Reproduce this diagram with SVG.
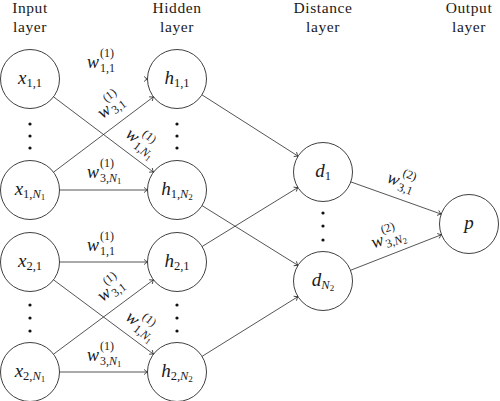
<svg xmlns="http://www.w3.org/2000/svg" width="500" height="401" viewBox="0 0 500 401">
<defs>
<style>
text{font-family:"Liberation Serif","DejaVu Serif",serif;fill:#1a1a1a}
.hd{font-size:15.5px;text-anchor:middle;letter-spacing:0.6px}
.node circle{fill:#fff;stroke:#2a2a2a;stroke-width:0.9}
.nl{font-size:19px;text-anchor:middle}
.i{font-style:italic}
.sb{font-size:12.5px}
.ss{font-size:9px}
.w{font-size:18px;font-style:italic}
.s{font-size:12px}
.s .ss{font-size:8.5px}
.edges path{fill:none;stroke:#2a2a2a;stroke-width:0.8;marker-end:url(#ah)}
.dots circle{fill:#111}
</style>
<marker id="ah" viewBox="-5 -4 6 8" markerWidth="6" markerHeight="8" refX="0" refY="0" orient="auto" markerUnits="userSpaceOnUse">
<path d="M-3.5,-2.6 Q-1.5,-0.8 0,0 Q-1.5,0.8 -3.5,2.6" fill="none" stroke="#2a2a2a" stroke-width="0.8"/>
</marker>
</defs>
<rect width="500" height="401" fill="#fff"/>

<g id="headers">
<text class="hd" x="30" y="13">Input</text><text class="hd" x="30" y="31.5">layer</text>
<text class="hd" x="177" y="13">Hidden</text><text class="hd" x="177" y="31.5">layer</text>
<text class="hd" x="323" y="13">Distance</text><text class="hd" x="323" y="31.5">layer</text>
<text class="hd" x="469" y="13">Output</text><text class="hd" x="469" y="31.5">layer</text>
</g>

<g id="connectors" class="edges">
<path d="M145.5,79 L147.5,79"/>
<path d="M53.5,96.8 L153.5,172.2"/>
<path d="M53.5,172.2 L153.5,96.8"/>
<path d="M59.5,190 L147.5,190"/>
<path d="M59.5,262 L147.5,262"/>
<path d="M53.5,279.8 L153.5,354.2"/>
<path d="M53.5,354.2 L153.5,279.8"/>
<path d="M59.5,372 L147.5,372"/>
<path d="M201.9,94.8 L298.1,156.2"/>
<path d="M202,205.6 L298,265.4"/>
<path d="M202.1,246.5 L297.9,187.5"/>
<path d="M202,356.4 L298,296.6"/>
<path d="M350.8,181.9 L441.2,214.1"/>
<path d="M350.5,270.3 L441.5,234.7"/>
</g>

<g id="edge-labels">
<g transform="translate(87,68)"><text class="w" x="0" y="0">w</text><text class="s" x="13" y="-11">(1)</text><text class="s" x="13" y="4">1,1</text></g>
<g transform="translate(102.4,119.2) rotate(-37)"><text class="w" x="0" y="0">w</text><text class="s" x="13" y="-11">(1)</text><text class="s" x="13" y="4">3,1</text></g>
<g transform="translate(124.6,136) rotate(38)"><text class="w" x="0" y="0">w</text><text class="s" x="13" y="-11">(1)</text><text class="s" x="13" y="4">1,<tspan class="i">N</tspan><tspan class="ss" dy="2">1</tspan></text></g>
<g transform="translate(87,178)"><text class="w" x="0" y="0">w</text><text class="s" x="13" y="-11">(1)</text><text class="s" x="13" y="4">3,<tspan class="i">N</tspan><tspan class="ss" dy="2">1</tspan></text></g>

<g transform="translate(87,251)"><text class="w" x="0" y="0">w</text><text class="s" x="13" y="-11">(1)</text><text class="s" x="13" y="4">1,1</text></g>
<g transform="translate(102.4,302.2) rotate(-37)"><text class="w" x="0" y="0">w</text><text class="s" x="13" y="-11">(1)</text><text class="s" x="13" y="4">3,1</text></g>
<g transform="translate(124.6,319) rotate(38)"><text class="w" x="0" y="0">w</text><text class="s" x="13" y="-11">(1)</text><text class="s" x="13" y="4">1,<tspan class="i">N</tspan><tspan class="ss" dy="2">1</tspan></text></g>
<g transform="translate(87,361)"><text class="w" x="0" y="0">w</text><text class="s" x="13" y="-11">(1)</text><text class="s" x="13" y="4">3,<tspan class="i">N</tspan><tspan class="ss" dy="2">1</tspan></text></g>

<g transform="translate(386,182) rotate(20)"><text class="w" x="0" y="0">w</text><text class="s" x="13" y="-11">(2)</text><text class="s" x="13" y="4">3,1</text></g>
<g transform="translate(373.6,248.4) rotate(-19)"><text class="w" x="0" y="0">w</text><text class="s" x="13" y="-11">(2)</text><text class="s" x="13" y="4">3,<tspan class="i">N</tspan><tspan class="ss" dy="2">2</tspan></text></g>
</g>

<g id="x11" class="node"><circle cx="30" cy="79" r="29.5"/><text class="nl" x="30" y="84"><tspan class="i">x</tspan><tspan class="sb" dy="3">1,1</tspan></text></g>
<g id="x1N1" class="node"><circle cx="30" cy="190" r="29.5"/><text class="nl" x="30" y="195"><tspan class="i">x</tspan><tspan class="sb" dy="3">1,</tspan><tspan class="sb i">N</tspan><tspan class="ss" dy="2">1</tspan></text></g>
<g id="x21" class="node"><circle cx="30" cy="262" r="29.5"/><text class="nl" x="30" y="267"><tspan class="i">x</tspan><tspan class="sb" dy="3">2,1</tspan></text></g>
<g id="x2N1" class="node"><circle cx="30" cy="372" r="29.5"/><text class="nl" x="30" y="377"><tspan class="i">x</tspan><tspan class="sb" dy="3">2,</tspan><tspan class="sb i">N</tspan><tspan class="ss" dy="2">1</tspan></text></g>

<g id="h11" class="node"><circle cx="177" cy="79" r="29.5"/><text class="nl" x="177" y="84"><tspan class="i">h</tspan><tspan class="sb" dy="3">1,1</tspan></text></g>
<g id="h1N2" class="node"><circle cx="177" cy="190" r="29.5"/><text class="nl" x="177" y="195"><tspan class="i">h</tspan><tspan class="sb" dy="3">1,</tspan><tspan class="sb i">N</tspan><tspan class="ss" dy="2">2</tspan></text></g>
<g id="h21" class="node"><circle cx="177" cy="262" r="29.5"/><text class="nl" x="177" y="267"><tspan class="i">h</tspan><tspan class="sb" dy="3">2,1</tspan></text></g>
<g id="h2N2" class="node"><circle cx="177" cy="372" r="29.5"/><text class="nl" x="177" y="377"><tspan class="i">h</tspan><tspan class="sb" dy="3">2,</tspan><tspan class="sb i">N</tspan><tspan class="ss" dy="2">2</tspan></text></g>

<g id="d1" class="node"><circle cx="323" cy="172" r="29.5"/><text class="nl" x="323" y="177"><tspan class="i">d</tspan><tspan class="sb" dy="3">1</tspan></text></g>
<g id="dN2" class="node"><circle cx="323" cy="281" r="29.5"/><text class="nl" x="323" y="286"><tspan class="i">d</tspan><tspan class="sb i" dy="3">N</tspan><tspan class="ss" dy="2">2</tspan></text></g>

<g id="p" class="node"><circle cx="469" cy="224" r="29.5"/><text class="nl" x="469" y="229"><tspan class="i">p</tspan></text></g>

<g id="ellipses" class="dots">
<circle cx="30" cy="124" r="1.6"/><circle cx="30" cy="136" r="1.6"/><circle cx="30" cy="148" r="1.6"/>
<circle cx="177" cy="124" r="1.6"/><circle cx="177" cy="136" r="1.6"/><circle cx="177" cy="148" r="1.6"/>
<circle cx="30" cy="305" r="1.6"/><circle cx="30" cy="318" r="1.6"/><circle cx="30" cy="331" r="1.6"/>
<circle cx="177" cy="305" r="1.6"/><circle cx="177" cy="318" r="1.6"/><circle cx="177" cy="331" r="1.6"/>
<circle cx="323" cy="213" r="1.6"/><circle cx="323" cy="226" r="1.6"/><circle cx="323" cy="240" r="1.6"/>
</g>
</svg>
